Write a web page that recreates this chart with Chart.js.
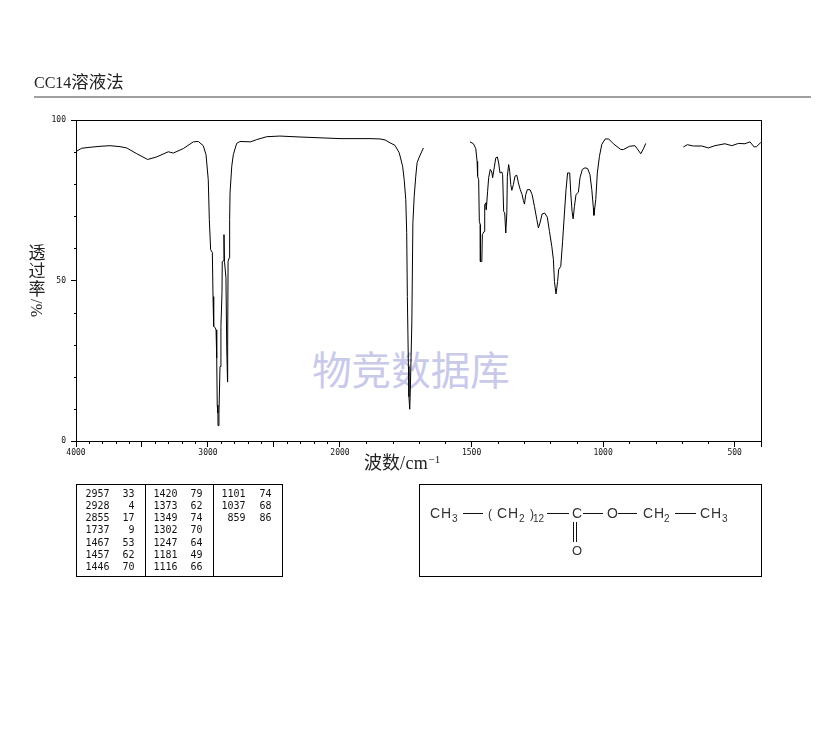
<!DOCTYPE html>
<html>
<head>
<meta charset="utf-8">
<title>CC14溶液法</title>
<script src="https://cdn.jsdelivr.net/npm/chart.js@4/dist/chart.umd.min.js"></script>
<style>
  html, body { margin: 0; padding: 0; background: #fff; }
  #page { position: relative; width: 822px; height: 737px; overflow: hidden; }
  #page canvas { position: absolute; left: 0; top: 0; }
  .title { position: absolute; left: 34px; top: 69px; font: 17.4px/24px "Noto Sans CJK SC", sans-serif; color: #222; }
  .title span { font: 16px "Liberation Serif", serif; }
  .rule { position: absolute; left: 34px; top: 96px; width: 777px; height: 2px; background: #a0a0a0; }
  .ychar { position: absolute; left: 28px; width: 18px; text-align: center; font: 17px/18px "Noto Sans CJK SC", sans-serif; color: #222; }
  .ypct { position: absolute; left: 24px; top: 299px; width: 26px; text-align: center; font: 16px/18px "Liberation Serif", serif; color: #222; transform: rotate(-90deg); }
  .xlabel { position: absolute; left: 364px; top: 449px; font: 18px/24px "Noto Sans CJK SC", sans-serif; color: #222; white-space: nowrap; }
  .xlabel span { font: 18px/24px "Liberation Serif", serif; letter-spacing: 0.4px; }
  .xlabel sup { font: 11px/11px "Liberation Serif", serif; vertical-align: 6px; }
  .mark { position: absolute; left: 312px; top: 342px; font: 39.6px/52px "Noto Sans CJK SC", sans-serif; color: #c9c9ea; white-space: nowrap; }
  .box { position: absolute; box-sizing: border-box; border: 1px solid #000; }
  .cell { position: absolute; font: 10px/12px "DejaVu Sans Mono", monospace; color: #111; text-align: right; }
  svg.formula { position: absolute; left: 0; top: 0; }
  svg.formula text { font-family: "Liberation Sans", sans-serif; fill: #333; }
  svg.formula line { stroke: #111; stroke-width: 1; }
</style>
</head>
<body>
<div id="page">
  <div class="mark">物竞数据库</div>
  <canvas id="ir" width="822" height="737"></canvas>
  <div class="title"><span>CC14</span>溶液法</div>
  <div class="rule"></div>
  <div class="ychar" style="top:243px">透</div>
  <div class="ychar" style="top:261px">过</div>
  <div class="ychar" style="top:279px">率</div>
  <div class="ypct">%/</div>
  <div class="xlabel">波数<span>/cm<sup>−1</sup></span></div>
  <div class="box" style="left:76px;top:484px;width:207px;height:93px"></div>
  <div class="box" style="left:145px;top:484px;width:69px;height:93px"></div>
  <div class="box" style="left:419px;top:484px;width:343px;height:93px"></div>
  <svg class="formula" width="822" height="737">
    <text x="430" y="518" font-size="14" letter-spacing="0.8">CH</text><text x="452" y="522" font-size="10">3</text>
    <line x1="463" y1="513.5" x2="483" y2="513.5"></line>
    <text x="488" y="518" font-size="12">(</text>
    <text x="497" y="518" font-size="14" letter-spacing="0.8">CH</text><text x="519" y="522" font-size="10">2</text>
    <text x="530" y="518" font-size="12">)</text><text x="533" y="522" font-size="10">12</text>
    <line x1="547" y1="513.5" x2="569" y2="513.5"></line>
    <text x="572" y="518" font-size="14">C</text>
    <line x1="583" y1="513.5" x2="603" y2="513.5"></line>
    <text x="607" y="518" font-size="14">O</text>
    <line x1="618" y1="513.5" x2="637" y2="513.5"></line>
    <text x="643" y="518" font-size="14" letter-spacing="0.8">CH</text><text x="664" y="522" font-size="10">2</text>
    <line x1="675" y1="513.5" x2="696" y2="513.5"></line>
    <text x="700" y="518" font-size="14" letter-spacing="0.8">CH</text><text x="722" y="522" font-size="10">3</text>
    <line x1="573.5" y1="522" x2="573.5" y2="542"></line>
    <line x1="576.5" y1="522" x2="576.5" y2="542"></line>
    <text x="572" y="555" font-size="13">O</text>
  </svg>
</div>
<script>
// spectrum is cut in three pieces, the gaps are in the original too
const waveA = [4000, 3995, 3957, 3894, 3818, 3742, 3667, 3616, 3540, 3457, 3389, 3301, 3263, 3187, 3111, 3073, 3036, 3015, 2998, 2990, 2980, 2967, 2962, 2957, 2945, 2939, 2934, 2930, 2925, 2924, 2917, 2909, 2902, 2894, 2892, 2880, 2879, 2875, 2864, 2858, 2852, 2851, 2848, 2839, 2836, 2833, 2820, 2808, 2783, 2758, 2677, 2631, 2555, 2455, 2303, 2000, 1886, 1848, 1829, 1810, 1791, 1775, 1762, 1756, 1750, 1746.5, 1744, 1740, 1738, 1735, 1733, 1727, 1723, 1718, 1712, 1707, 1700, 1683];
const transA = [90.2, 90.3, 91.2, 91.5, 91.8, 92.0, 91.7, 91.3, 89.5, 87.7, 88.5, 90.1, 89.7, 91.1, 93.2, 93.3, 92.0, 89.2, 81.4, 69.0, 59.6, 58.7, 45.0, 35.7, 35.3, 34.6, 25.9, 11.2, 8.7, 4.8, 8.7, 23.2, 35.7, 46.2, 55.9, 56.2, 64.3, 55.9, 50.9, 29.0, 18.4, 29.0, 55.9, 57.1, 69.0, 77.3, 85.6, 89.2, 92.7, 93.3, 93.2, 93.9, 94.8, 95.0, 94.7, 94.2, 94.2, 94.1, 93.8, 92.9, 92.1, 89.8, 85.6, 81.4, 75.2, 64.9, 45.0, 23.2, 13.8, 9.9, 15.0, 36.8, 68.0, 76.2, 82.5, 86.7, 88.2, 91.3];

const waveB = [1506, 1493, 1484, 1479, 1477, 1473, 1470.5, 1467, 1466.5, 1461, 1459, 1452, 1450, 1445, 1444, 1439, 1435, 1429, 1423, 1420, 1414, 1408, 1402, 1397, 1392, 1385, 1382, 1378, 1374, 1370, 1366, 1364, 1359, 1355, 1351, 1347, 1341, 1335, 1328, 1322, 1315, 1308, 1303, 1299, 1294, 1288, 1278, 1270, 1261, 1252, 1246, 1240, 1232, 1222, 1212, 1204, 1195, 1189, 1185, 1179, 1173, 1169, 1161, 1154, 1147, 1141, 1135, 1127, 1123, 1118, 1114, 1109, 1103, 1094, 1088, 1079, 1069, 1059, 1050, 1043, 1037, 1035, 1028, 1022, 1014, 1005, 992, 979, 961, 933, 923, 900, 879, 870, 857, 847, 838];
const transB = [93.2, 92.6, 91.1, 87.1, 82.5, 81.4, 68.4, 67.4, 55.9, 55.9, 64.3, 65.3, 73.6, 74.2, 72.1, 77.8, 82.0, 84.6, 83.8, 82.0, 85.1, 88.2, 88.5, 86.6, 83.5, 83.8, 83.0, 71.5, 71.1, 64.8, 71.0, 82.5, 86.1, 84.0, 79.9, 78.1, 79.9, 82.5, 82.8, 80.4, 78.3, 76.8, 74.9, 73.8, 76.8, 78.3, 78.3, 76.8, 73.1, 69.0, 66.4, 67.9, 70.7, 71.0, 69.7, 65.3, 60.6, 56.5, 49.7, 45.8, 49.7, 53.4, 54.4, 62.2, 71.0, 78.3, 83.5, 83.5, 77.3, 71.5, 69.2, 73.1, 76.8, 77.5, 82.0, 84.6, 85.1, 84.9, 83.0, 78.3, 72.6, 70.3, 75.2, 83.5, 88.7, 92.4, 94.1, 94.1, 92.6, 90.8, 90.8, 91.8, 92.0, 91.0, 89.5, 91.0, 92.7];

const waveC = [695, 680, 657, 625, 600, 575, 537, 511, 486, 461, 442, 426, 417, 402, 400];
const transC = [91.6, 92.3, 91.9, 91.9, 91.3, 92.0, 92.6, 92.0, 92.7, 92.6, 93.2, 91.6, 91.7, 92.9, 92.9];

const majorWaves = [4000, 3500, 3000, 2500, 2000, 1500, 1000, 500, 400];
const labelledWaves = [4000, 3000, 2000, 1500, 1000, 500];
const minorWaves = [3900, 3800, 3700, 3600, 3400, 3300, 3200, 3100, 2900, 2800, 2700, 2600, 2400, 2300, 2200, 2100, 1900, 1800, 1700, 1600, 1400, 1300, 1200, 1100, 900, 800, 700, 600];
const minorTrans = [10, 20, 30, 40, 60, 70, 80, 90];

const peakWaves = [2957, 2928, 2855, 1737, 1467, 1457, 1446, 1420, 1373, 1349, 1302, 1247, 1181, 1116, 1101, 1037, 859];
const peakTrans = [33, 4, 17, 9, 53, 62, 70, 79, 62, 74, 70, 64, 49, 66, 74, 68, 86];

// the wavenumber axis changes scale at 2000
class IrScale extends Chart.LinearScale {
    static id = 'irScale';
    static defaults = {};
    getPixelForValue(value) {
        if (value === null) return NaN;
        const dec = value >= 2000
            ? (4000 - value) / 2000 * 0.3854
            : 0.3854 + (2000 - value) / 1600 * 0.6146;
        return this.getPixelForDecimal(dec);
    }
}
Chart.register(IrScale);

function toPoints(waves, trans) {
    return waves.map((w, i) => ({x: w, y: trans[i]}));
}

function line(points) {
    return {
        data: points,
        borderColor: '#000',
        borderWidth: 1,
        pointRadius: 0,
        tension: 0,
        clip: false
    };
}

const framePlugin = {
    id: 'frame',
    afterDraw(chart) {
        const {ctx, chartArea: a, scales} = chart;
        ctx.save();
        ctx.strokeStyle = '#000';
        ctx.lineWidth = 1;
        ctx.strokeRect(a.left + 0.5, a.top + 0.5, a.right - a.left, a.bottom - a.top);
        ctx.beginPath();
        minorWaves.forEach(w => {
            const px = Math.round(scales.x.getPixelForValue(w)) + 0.5;
            ctx.moveTo(px, a.bottom);
            ctx.lineTo(px, a.bottom + 3);
        });
        minorTrans.forEach(t => {
            const py = Math.round(scales.y.getPixelForValue(t)) + 0.5;
            ctx.moveTo(a.left, py);
            ctx.lineTo(a.left - 2, py);
        });
        ctx.stroke();
        ctx.restore();
    }
};

new Chart(document.getElementById('ir'), {
    type: 'line',
    data: {
        datasets: [
            line(toPoints(waveA, transA)),
            line(toPoints(waveB, transB)),
            line(toPoints(waveC, transC))
        ]
    },
    options: {
        responsive: false,
        animation: false,
        layout: {padding: {left: 0, top: 120, right: 61, bottom: 266}},
        plugins: {legend: {display: false}, tooltip: {enabled: false}},
        scales: {
            x: {
                type: 'irScale',
                min: 400,
                max: 4000,
                afterBuildTicks: s => { s.ticks = majorWaves.map(v => ({value: v})); },
                afterFit: s => { s.height = 30; },
                border: {display: false},
                grid: {drawOnChartArea: false, tickLength: 6, tickColor: '#000'},
                ticks: {
                    autoSkip: false,
                    maxRotation: 0,
                    padding: 1,
                    color: '#111',
                    font: {family: '"DejaVu Sans Mono", monospace', size: 8},
                    callback: v => labelledWaves.includes(v) ? String(v) : ''
                }
            },
            y: {
                min: 0,
                max: 100,
                afterBuildTicks: s => { s.ticks = [0, 50, 100].map(v => ({value: v})); },
                afterFit: s => { s.width = 76; },
                border: {display: false},
                grid: {drawOnChartArea: false, tickLength: 5, tickColor: '#000'},
                ticks: {
                    padding: 5,
                    color: '#111',
                    font: {family: '"DejaVu Sans Mono", monospace', size: 8}
                }
            }
        }
    },
    plugins: [framePlugin]
});

// peak table, seven rows to a column
const page = document.getElementById('page');
const waveRight = [109.5, 177.5, 245.5];
const transRight = [134.5, 202.5, 271.5];
function cell(text, right, top) {
    const el = document.createElement('div');
    el.className = 'cell';
    el.textContent = text;
    el.style.left = (right - 40) + 'px';
    el.style.width = '40px';
    el.style.top = top + 'px';
    page.appendChild(el);
}
peakWaves.forEach((w, i) => {
    const col = Math.floor(i / 7);
    const top = 487.5 + (i % 7) * 12.33;
    cell(w, waveRight[col], top);
    cell(peakTrans[i], transRight[col], top);
});
</script>
</body>
</html>
